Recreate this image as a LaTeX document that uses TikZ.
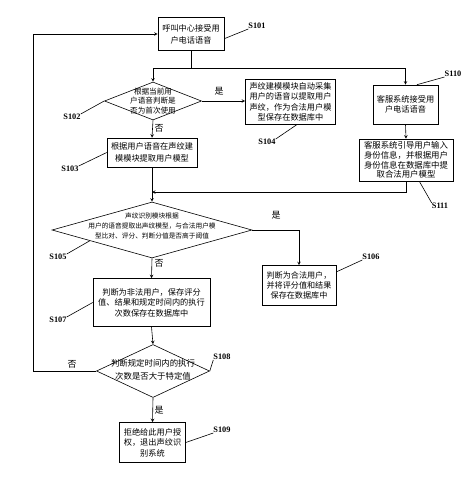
\documentclass[tikz,border=0pt]{standalone}
\usepackage{fontspec}
\setmainfont{Liberation Serif}
\newfontfamily\cjk{Noto Sans CJK SC}
\usetikzlibrary{shapes.geometric,calc}

\begin{document}
\begin{tikzpicture}[x=1pt,y=-1pt,>=stealth]
    \tikzstyle{box}=[draw, rectangle, line width=0.6pt, inner sep=0, align=center, font={\cjk\fontsize{8.2}{10.5}\selectfont}];
    \tikzstyle{dia}=[draw, diamond, line width=0.6pt, inner sep=0];
    \tikzstyle{dtext}=[align=center, inner sep=0];
    \tikzstyle{tag}=[inner sep=0, font={\bfseries\fontsize{8.3}{10}\selectfont}];
    \tikzstyle{yn}=[inner sep=0, font={\cjk\fontsize{9}{10}\selectfont}];
    \tikzstyle{line}=[line width=0.6pt];

    \useasboundingbox (0,0) rectangle (474,480);

    \node[box, minimum width=66, minimum height=33, font={\cjk\fontsize{8.2}{12}\selectfont}] at (191,34) (s101) {呼叫中心接受用\\户电话语音};
    \node[dia, minimum width=97, minimum height=38] at (153,101) (s102) {};
    \node[dtext, font={\cjk\fontsize{7.6}{9.8}\selectfont}] at (153,101) (s102t) {根据当前用\\户语音判断是\\否为首次使用};
    \node[box, minimum width=90, minimum height=29, font={\cjk\fontsize{8.2}{12}\selectfont}] at (152,152.5) (s103) {根据用户语音在声纹建\\模模块提取用户模型};
    \node[box, minimum width=90, minimum height=45] at (290.5,102) (s104) {声纹建模模块自动采集\\用户的语音以提取用户\\声纹，作为合法用户模\\型保存在数据库中};
    \node[box, minimum width=65, minimum height=39] at (405.5,104.5) (s110) {客服系统接受用\\户电话语音};
    \node[box, minimum width=94, minimum height=42, font={\cjk\fontsize{8.4}{9.8}\selectfont}] at (406,160) (s111) {客服系统引导用户输入\\身份信息，并根据用户\\身份信息在数据库中提\\取合法用户模型};
    \node[dia, minimum width=200, minimum height=56] at (152,230) (s105) {};
    \node[dtext, font={\cjk\fontsize{6.7}{9.8}\selectfont}] at (152,226) (s105t) {声纹识别模块根据\\用户的语音提取出声纹模型，与合法用户模\\型比对、评分、判断分值是否高于阈值};
    \node[box, minimum width=74, minimum height=40, font={\cjk\fontsize{8.1}{10}\selectfont}] at (299,285.5) (s106) {判断为合法用户，\\并将评分值和结果\\保存在数据库中};
    \node[box, minimum width=117, minimum height=48] at (151.5,302.5) (s107) {判断为非法用户，保存评分\\值、结果和规定时间内的执行\\次数保存在数据库中};
    \node[dia, minimum width=113, minimum height=53] at (153,371) (s108) {};
    \node[dtext, font={\cjk\fontsize{8.4}{13}\selectfont}] at (153,369.5) (s108t) {判断规定时间内的执行\\次数是否大于特定值};
    \node[box, minimum width=66, minimum height=40] at (152.5,442.5) (s109) {拒绝给此用户授\\权，退出声纹识\\别系统};

    \node[tag] at (257,26) (l101) {S101};
    \node[tag] at (72,117) (l102) {S102};
    \node[tag] at (70,169) (l103) {S103};
    \node[tag] at (267,142) (l104) {S104};
    \node[tag] at (58,257) (l105) {S105};
    \node[tag] at (371,257) (l106) {S106};
    \node[tag] at (58,320) (l107) {S107};
    \node[tag] at (222,357) (l108) {S108};
    \node[tag] at (222,430) (l109) {S109};
    \node[tag] at (453,74) (l110) {S110};
    \node[tag] at (440,206) (l111) {S111};

    \node[yn] at (219,91) (yes1) {是};
    \node[yn] at (159,128) (no1) {否};
    \node[yn] at (276,215) (yes2) {是};
    \node[yn] at (159,263) (no2) {否};
    \node[yn] at (72,364) (no3) {否};
    \node[yn] at (159,410) (yes3) {是};

    \coordinate (j1) at (191,68);
    \coordinate (j2) at (152,192);
    \coordinate (lp) at (33,34);

    \draw[line] (s101.south) -- (j1);
    \draw[line,->] (j1) -| (s102.north);
    \draw[line,->] (j1) -| (s110.north);
    \draw[line,->] (s102.east) -- (s102.east -| s104.west);
    \draw[line,->] (s102.south) -- (s103.north);
    \draw[line,->] (s110.south) -- (s111.north);
    \draw[line,->] (s111.south) |- (j2);
    \draw[line,->] (s103.south) -- (s105.north);
    \draw[line,->] (s105.east) -| (s106.north);
    \draw[line,->] (s105.south) -- (s107.north);
    \draw[line,->] (s107.south) -- (s108.north);
    \draw[line,->] (s108.south) -- (s109.north);
    \draw[line,->] (s108.west) -| (lp) -- (s101.west);

    \draw[line] (s101.-8) -- (l101.south west)
          (s102.west) -- (l102.north east)
          (s103.west) -- (l103.north east)
          (s104.-75) -- (l104.north east)
          ($(s105.west)!0.38!(s105.south)$) -- (l105.north east)
          (s106.20) -- (l106.south west)
          (s107.west) -- (l107.north east)
          (s108.east) -- (l108.south west)
          (s109.east) -- (l109.south west)
          (s110.60) -- (l110.south west)
          (s111.-58) -- (l111.north west);
\end{tikzpicture}
\end{document}
